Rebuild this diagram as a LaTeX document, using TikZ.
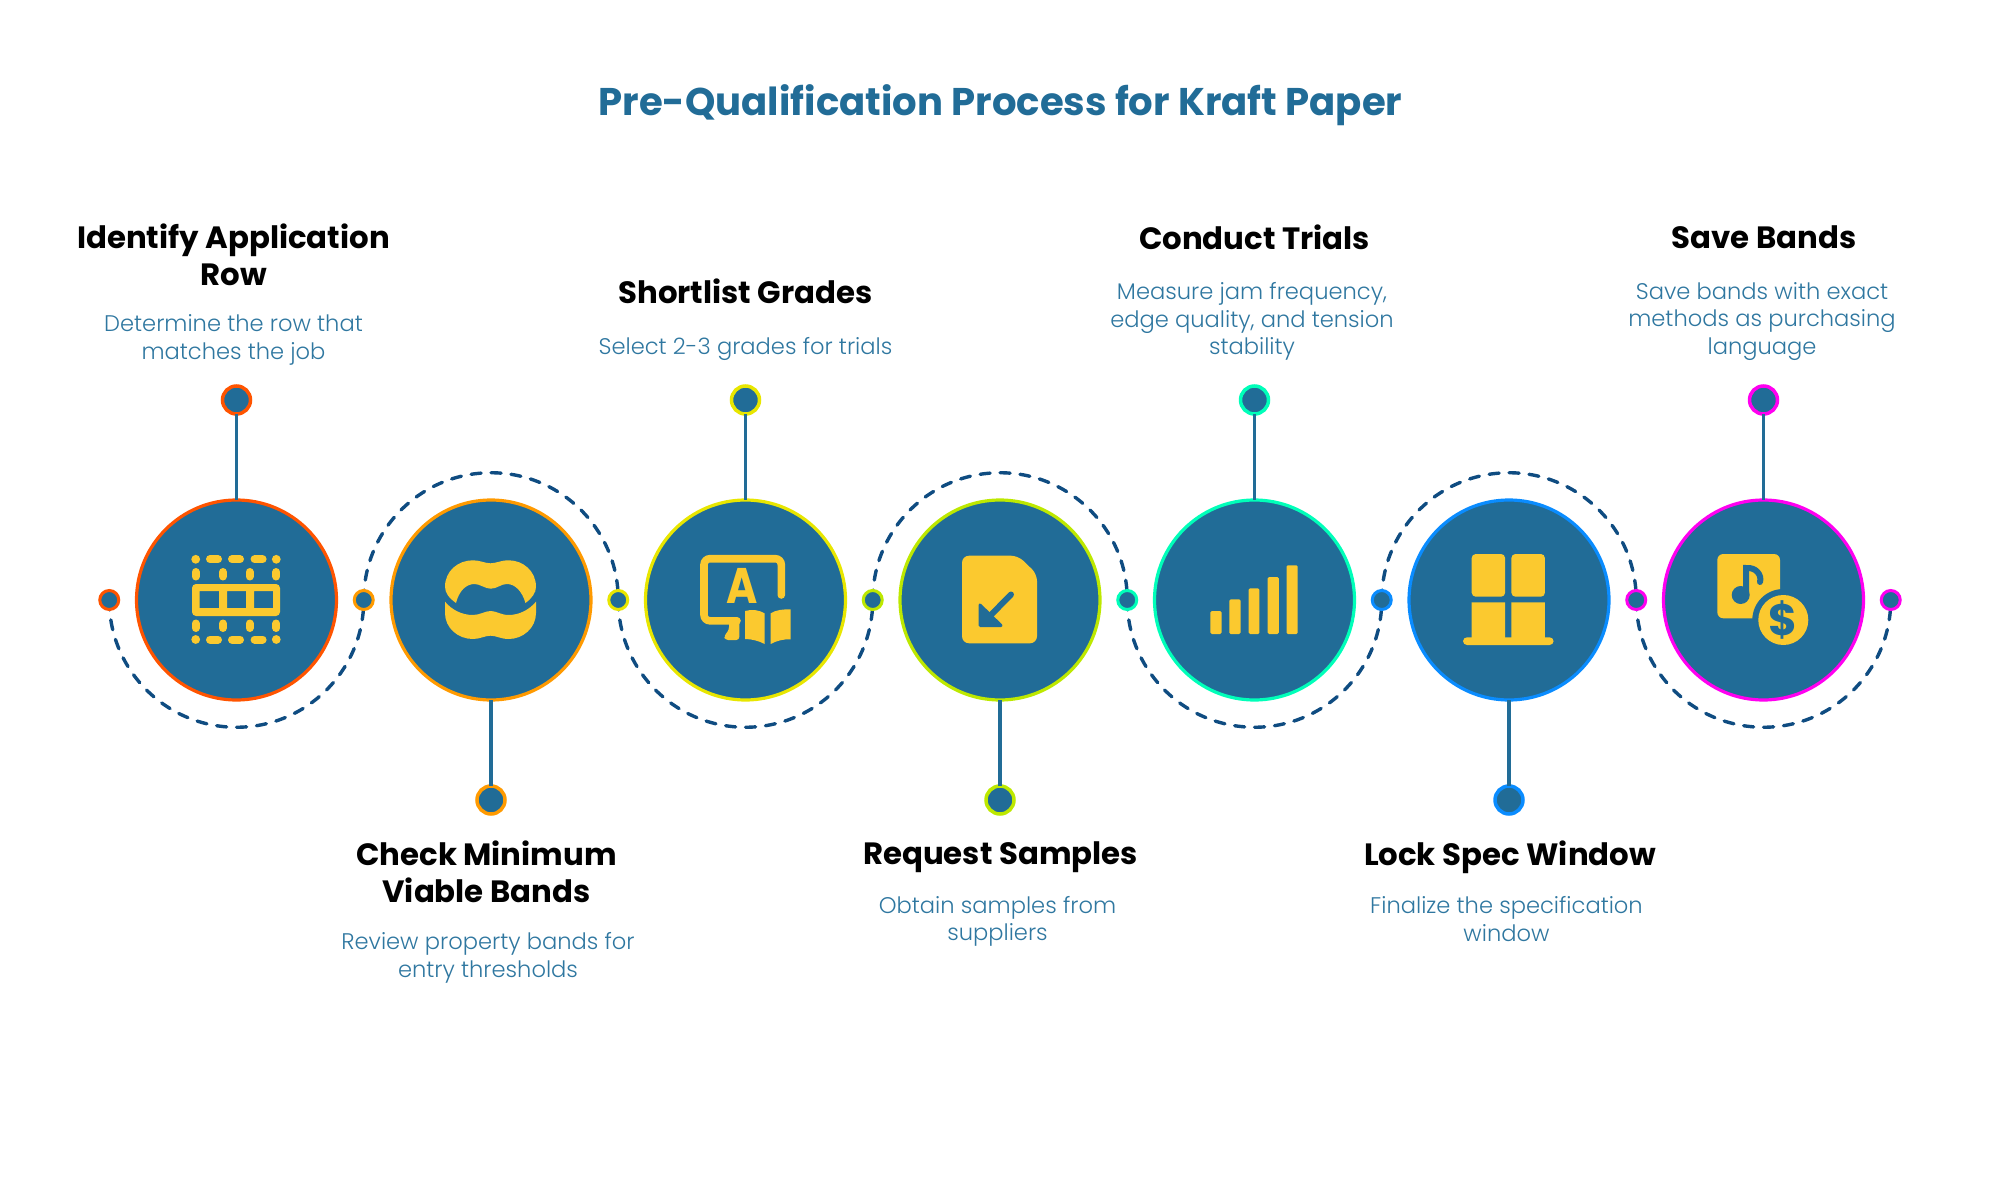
\documentclass[tikz,border=0pt]{standalone}
\usepackage{fontspec}
\setmainfont{Poppins}
\newfontfamily\lightfont{Poppins Light}
\usetikzlibrary{backgrounds}
\definecolor{disc}{HTML}{216C97}
\definecolor{trailblue}{HTML}{0F4C81}
\definecolor{iconyel}{HTML}{FBC92F}
\definecolor{descblue}{HTML}{2F77A0}
\definecolor{c1}{HTML}{FF5400}
\definecolor{c2}{HTML}{FF9A00}
\definecolor{c3}{HTML}{E8E600}
\definecolor{c4}{HTML}{BDE800}
\definecolor{c5}{HTML}{00FFB9}
\definecolor{c6}{HTML}{0A8CFF}
\definecolor{c7}{HTML}{FF00F0}
\begin{document}
\begin{tikzpicture}
	[x=0.5pt,y=-0.5pt,
	bigdisc/.style={circle,draw=#1,fill=disc,line width=1.6pt,minimum size=100pt,inner sep=0pt,outer sep=0pt},
	tipdot/.style={circle,draw=#1,fill=disc,line width=1.75pt,minimum size=14pt,inner sep=0pt,outer sep=0pt},
	joint/.style={circle,draw=#1,fill=disc,line width=1.5pt,minimum size=9.5pt,inner sep=0pt,outer sep=0pt},
	stem/.style={draw=disc,line width=1.7pt},
	trail/.style={draw=trailblue,line width=1.7pt,line cap=round,dash pattern=on 5pt off 5pt},
	pagetitle/.style={font=\fontsize{19.3}{23}\selectfont\bfseries,text=disc},
	heading/.style={font=\fontsize{15.4}{18.3}\selectfont\bfseries,align=center,text=black},
	desc/.style={font=\fontsize{11.3}{13.7}\selectfont\lightfont,align=center,text=descblue},
	pill/.style={draw=iconyel,line width=4pt,line cap=round},
	iconline/.style={draw=iconyel,line width=3.8pt,line cap=round,rounded corners=3pt},
	cutline/.style={draw=disc,line width=3pt,line cap=round}
	]
	\useasboundingbox (0,0) rectangle (1999,1182);

	\node[pagetitle] (title) at (1000.5,105.5){Pre-Qualification Process for Kraft Paper};

	% the seven discs
	\node[bigdisc=c1] (s1) at (236.5,600){};
	\node[bigdisc=c2] (s2) at (491,600){};
	\node[bigdisc=c3] (s3) at (745.5,600){};
	\node[bigdisc=c4] (s4) at (1000,600){};
	\node[bigdisc=c5] (s5) at (1254.5,600){};
	\node[bigdisc=c6] (s6) at (1509,600){};
	\node[bigdisc=c7] (s7) at (1763.5,600){};

	% dots on the stems
	\node[tipdot=c1] (t1) at (236.5,400){};
	\node[tipdot=c2] (t2) at (491,800){};
	\node[tipdot=c3] (t3) at (745.5,400){};
	\node[tipdot=c4] (t4) at (1000,800){};
	\node[tipdot=c5] (t5) at (1254.5,400){};
	\node[tipdot=c6] (t6) at (1509,800){};
	\node[tipdot=c7] (t7) at (1763.5,400){};

	\draw[stem] (t1) -- (s1);
	\draw[stem] (s2) -- (t2);
	\draw[stem] (t3) -- (s3);
	\draw[stem] (s4) -- (t4);
	\draw[stem] (t5) -- (s5);
	\draw[stem] (s6) -- (t6);
	\draw[stem] (t7) -- (s7);

	% dots between the discs
	\node[joint=c1] (j0) at (109.25,600){};
	\node[joint=c2] (j1) at (363.75,600){};
	\node[joint=c3] (j2) at (618.25,600){};
	\node[joint=c4] (j3) at (872.75,600){};
	\node[joint=c5] (j4) at (1127.25,600){};
	\node[joint=c6] (j5) at (1381.75,600){};
	\node[joint=c7] (j6) at (1636.25,600){};
	\node[joint=c7] (j7) at (1890.75,600){};

	\begin{scope}[on background layer]
		\draw[trail] (j0.center) arc[start angle=180,end angle=0,radius=127.25];
		\draw[trail] (j1.center) arc[start angle=180,end angle=360,radius=127.25];
		\draw[trail] (j2.center) arc[start angle=180,end angle=0,radius=127.25];
		\draw[trail] (j3.center) arc[start angle=180,end angle=360,radius=127.25];
		\draw[trail] (j4.center) arc[start angle=180,end angle=0,radius=127.25];
		\draw[trail] (j5.center) arc[start angle=180,end angle=360,radius=127.25];
		\draw[trail] (j6.center) arc[start angle=180,end angle=0,radius=127.25];
	\end{scope}

	% texts
	\node[heading] (h1) at (233.5,254.5){Identify Application\\Row};
	\node[desc] (p1) at (233.5,340){Determine the row that\\matches the job};
	\node[heading] (h2) at (486.5,871.5){Check Minimum\\Viable Bands};
	\node[desc] (p2) at (488,958){Review property bands for\\entry thresholds};
	\node[heading] (h3) at (745.5,291){Shortlist Grades};
	\node[desc] (p3) at (745.5,348.5){Select 2-3 grades for trials};
	\node[heading] (h4) at (1000.5,857.5){Request Samples};
	\node[desc] (p4) at (997.5,921.5){Obtain samples from\\suppliers};
	\node[heading] (h5) at (1254.5,237){Conduct Trials};
	\node[desc] (p5) at (1252,321.5){Measure jam frequency,\\edge quality, and tension\\stability};
	\node[heading] (h6) at (1510,857.5){Lock Spec Window};
	\node[desc] (p6) at (1506.5,919){Finalize the specification\\window};
	\node[heading] (h7) at (1764,237){Save Bands};
	\node[desc] (p7) at (1762,321.5){Save bands with exact\\methods as purchasing\\language};

	% icon 1, grid
	\fill[iconyel,even odd rule] [rounded corners=2pt] (192,584) rectangle (280,616)
		[sharp corners] (199.6,591) rectangle (219,608) (227,591) rectangle (246,608) (254,591) rectangle (273,608);
	\draw[pill] (210,559.3) -- (218,559.3) (232,559.3) -- (240,559.3) (254.6,559.3) -- (262.6,559.3)
		(195.7,572) -- (195.7,576.5) (222.9,572) -- (222.9,576.5) (249.6,572) -- (249.6,576.5) (276.3,572) -- (276.3,576.5)
		(195.7,623.5) -- (195.7,628) (222.9,623.5) -- (222.9,628) (249.6,623.5) -- (249.6,628) (276.3,623.5) -- (276.3,628)
		(210,639.5) -- (218,639.5) (232,639.5) -- (240,639.5) (254.6,639.5) -- (262.6,639.5);
	\fill[iconyel] (195.7,559.3) circle[radius=4.4] (276.3,559.3) circle[radius=4.4]
		(195.7,639.5) circle[radius=4.4] (276.3,639.5) circle[radius=4.4];

	% icon 2, two lobes
	\fill[iconyel] (456,603) .. controls (449,598) and (445,593) .. (445,586.7)
		.. controls (445,571) and (458,560.3) .. (472.9,560.3)
		.. controls (480,560.3) and (485,563.3) .. (490.7,563.3)
		.. controls (496,563.3) and (501,560.3) .. (508.6,560.3)
		.. controls (523,560.3) and (536,571) .. (536,586.7)
		.. controls (536,593) and (532,598) .. (525.5,603)
		.. controls (522,591) and (515,584) .. (506.8,584)
		.. controls (501,584) and (497,588.7) .. (490.7,588.7)
		.. controls (485,588.7) and (480,584) .. (474.6,584)
		.. controls (466,584) and (459,591) .. (456,603) -- cycle;
	\fill[iconyel] (445,601.7) .. controls (452,610) and (462,615) .. (472.9,615)
		.. controls (480,615) and (485,611) .. (490.7,611)
		.. controls (496,611) and (501,615) .. (508.6,615)
		.. controls (519,615) and (529,610) .. (536,601.7)
		-- (536,613) .. controls (536,628) and (523,639) .. (508.6,639)
		.. controls (501,639) and (496,635.7) .. (490.7,635.7)
		.. controls (485,635.7) and (480,639) .. (472.9,639)
		.. controls (458,639) and (445,628) .. (445,613) -- cycle;

	% icon 3, screen and book
	\draw[iconline] (781.3,595) -- (781.3,558.7) -- (704,558.7) -- (704,620.8) -- (737,620.8);
	\fill[iconyel,rounded corners=1.5pt] (729,622) -- (729,630) -- (724,636) -- (725,640) -- (739.3,640) -- (739.3,617) -- cycle;
	\fill[iconyel] (745,611) .. controls (752,609) and (759,610) .. (764.6,613.3) -- (764.6,644) .. controls (759,641) and (752,639) .. (745,639) -- cycle;
	\fill[iconyel] (770.7,613.3) .. controls (776,610) and (783,609) .. (790.7,609.5) -- (790.7,639.3) .. controls (783,639) and (776,641) .. (770.7,644) -- cycle;
	\node[font=\fontsize{25}{25}\selectfont\bfseries,text=iconyel,xscale=.85,inner sep=0pt] (iconA) at (742.5,585.5){A};

	% icon 4, file with arrow
	\fill[iconyel,rounded corners=3.5pt] (962,555.7) -- (1018,555.7) -- (1037,574) -- (1037,643.3) -- (962,643.3) -- cycle;
	\draw[cutline] (1011,594.5) -- (986,620);
	\fill[disc,draw=disc,line width=1.5pt,line join=round] (980,605) -- (980,625.5) -- (1001,625.5) -- cycle;

	% icon 5, bars
	\fill[iconyel,rounded corners=.7pt] (1210.4,611) rectangle (1221.6,634) (1229.3,599.3) rectangle (1240.5,634)
		(1248.7,588.3) rectangle (1259.4,634) (1267.6,577) rectangle (1278.8,634) (1286.5,565.3) rectangle (1297.7,634);

	% icon 6, window
	\fill[iconyel,rounded corners=2pt] (1471.7,596.7) -- (1471.7,554) -- (1505.1,554) -- (1505.1,596.7) -- cycle;
	\fill[iconyel,rounded corners=2pt] (1511.4,596.7) -- (1511.4,554) -- (1544.9,554) -- (1544.9,596.7) -- cycle;
	\fill[iconyel] (1471.7,602.3) rectangle (1505.1,640) (1511.4,602.3) rectangle (1544.9,640);
	\fill[iconyel,rounded corners=2pt] (1463,637.3) rectangle (1553.6,645);

	% icon 7, note and coin
	\fill[iconyel,rounded corners=3pt] (1717.3,554) rectangle (1780,618.3);
	\fill[disc] (1783.3,620) circle[radius=31];
	\fill[iconyel] (1783.3,620) circle[radius=25];
	\fill[disc] (1740.7,595) circle[radius=9];
	\draw[cutline] (1746,595) -- (1746,568) .. controls (1756,567) and (1762,575) .. (1760,582);
	\node[font=\fontsize{22}{22}\selectfont\bfseries,text=disc,inner sep=0pt] (iconS) at (1783.3,620){\$};
\end{tikzpicture}
\end{document}
